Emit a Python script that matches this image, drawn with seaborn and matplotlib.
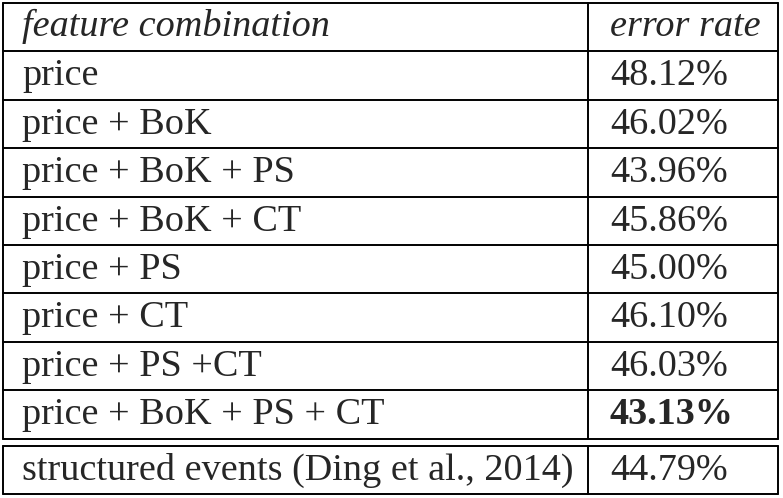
import matplotlib.pyplot as plt
import seaborn as sns

sns.set_theme(style="white")
plt.rcParams['font.family'] = 'Liberation Serif'

# table content
header = ["feature combination", "error rate"]
features = ["price", "price + BoK", "price + BoK + PS", "price + BoK + CT",
            "price + PS", "price + CT", "price + PS +CT", "price + BoK + PS + CT"]
error_rates = [48.12, 46.02, 43.96, 45.86, 45.00, 46.10, 46.03, 43.13]
baseline_name = "structured events (Ding et al., 2014)"
baseline_rate = 44.79

W, H = 783, 498
FS = 27.5
LW = 1.4
x_left, x_mid, x_right = 3, 588, 778
x_txt1, x_txt2 = 22, 610
top = 3
row_h = 48.4
gap_top = 446
base_off = 34

fig = plt.figure(figsize=(W / 100, H / 100), dpi=100)
ax = fig.add_axes([0, 0, 1, 1])
ax.set_xlim(0, W)
ax.set_ylim(H, 0)
ax.axis('off')


def cell(x, y, s, **kw):
    ax.text(x, y, s, fontsize=FS, va='baseline', family='Liberation Serif', **kw)


best = min(error_rates)
n = len(features) + 1  # header + rows
ys = [top + i * row_h for i in range(n + 1)]

# main table lines
for y in ys:
    ax.plot([x_left, x_right], [y, y], color='black', lw=LW)
for x in (x_left, x_mid, x_right):
    ax.plot([x, x], [ys[0], ys[-1]], color='black', lw=LW)

# header
cell(x_txt1, ys[0] + base_off - 1, header[0], style='italic')
cell(x_txt2, ys[0] + base_off - 1, header[1], style='italic')

for i, (f, r) in enumerate(zip(features, error_rates)):
    y = ys[i + 1] + base_off
    cell(x_txt1, y, f)
    cell(x_txt2, y, f"{r:.2f}%", fontweight='bold' if r == best else 'normal')

# second table (baseline)
y0, y1 = gap_top, gap_top + row_h
for y in (y0, y1):
    ax.plot([x_left, x_right], [y, y], color='black', lw=LW)
for x in (x_left, x_mid, x_right):
    ax.plot([x, x], [y0, y1], color='black', lw=LW)
cell(x_txt1, y0 + base_off, baseline_name)
cell(x_txt2, y0 + base_off, f"{baseline_rate:.2f}%")

fig.savefig("out.png", dpi=100, facecolor='white')
